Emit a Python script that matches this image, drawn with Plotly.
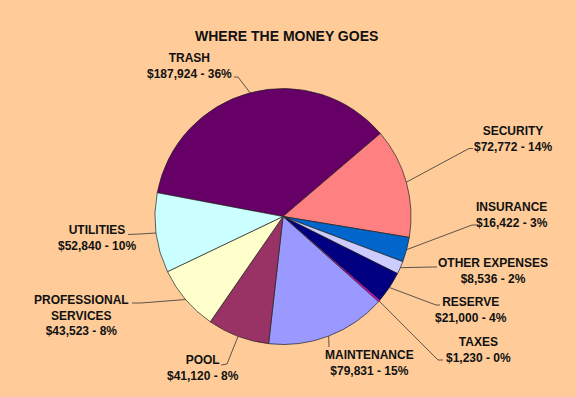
import math
import plotly.graph_objects as go

# ---- data ----
categories = ["TRASH", "SECURITY", "INSURANCE", "OTHER EXPENSES", "RESERVE",
              "TAXES", "MAINTENANCE", "POOL", "PROFESSIONAL SERVICES", "UTILITIES"]
amounts = [187924, 72772, 16422, 8536, 21000, 1230, 79831, 41120, 43523, 52840]
label_lines = [["TRASH"], ["SECURITY"], ["INSURANCE"], ["OTHER EXPENSES"], ["RESERVE"],
               ["TAXES"], ["MAINTENANCE"], ["POOL"], ["PROFESSIONAL", "SERVICES"], ["UTILITIES"]]
colors = ["#660066", "#FF8080", "#0066CC", "#CCCCFF", "#000080",
          "#FF00FF", "#9999FF", "#993366", "#FFFFCC", "#CCFFFF"]

# ---- layout constants (pixels) ----
W, H = 576, 397
CX, CY, R = 283.0, 216.5, 128.0
ROTATION = -79.3

# label block centres and leader-line starts (start point, elbow point)
label_pos = [(189, 66), (513, 139), (512, 215), (493, 271), (471, 310),
             (478, 350), (369, 363), (203, 368), (81.5, 315), (96.5, 238)]
leader_start = [((234, 77), (238, 77)), ((473, 148.5), (469, 148.5)),
                ((476, 225), (472, 225)), ((437, 267), (433, 267)),
                ((440, 305), (436, 305)), ((443, 360), (438, 360)),
                ((329, 347), (329, 346)), ((221, 365), (227, 364)),
                ((132, 303), (141, 303)), ((128, 234.5), (140, 234))]


def px(x):
    return x / W


def py(y):
    return 1 - y / H


total = sum(amounts)

fig = go.Figure()
fig.add_trace(go.Pie(
    labels=categories,
    values=amounts,
    sort=False,
    direction="clockwise",
    rotation=ROTATION,
    marker=dict(colors=colors, line=dict(color="#222222", width=0.7)),
    textinfo="none",
    showlegend=False,
    domain=dict(x=[px(CX - R), px(CX + R)], y=[py(CY + R), py(CY - R)]),
))

annotations = [dict(
    text="<b>WHERE THE MONEY GOES</b>", x=px(286.5), y=py(36),
    xref="paper", yref="paper", showarrow=False,
    font=dict(family="Liberation Sans, Arial", size=14, color="#111111"),
    xanchor="center", yanchor="middle")]
shapes = []

cum = 0.0
for i, v in enumerate(amounts):
    frac_mid = (cum + v / 2) / total
    cum += v
    theta = math.radians(ROTATION + 360 * frac_mid)
    ex = CX + R * math.sin(theta)
    ey = CY - R * math.cos(theta)
    pct = round(100 * v / total)
    txt = "<br>".join(label_lines[i] + [f"${v:,} - {pct}%"])
    lx, ly = label_pos[i]
    annotations.append(dict(
        text=f"<b>{txt}</b>", x=px(lx), y=py(ly), xref="paper", yref="paper",
        showarrow=False, xanchor="center", yanchor="middle", align="center",
        font=dict(family="Liberation Sans, Arial", size=12, color="#111111")))
    (sx, sy), (bx, by) = leader_start[i]
    path = f"M {px(sx)} {py(sy)} L {px(bx)} {py(by)} L {px(ex)} {py(ey)}"
    shapes.append(dict(type="path", path=path, xref="paper", yref="paper",
                       line=dict(color="#333333", width=0.8)))

fig.update_layout(
    width=W, height=H, autosize=False,
    margin=dict(l=0, r=0, t=0, b=0),
    paper_bgcolor="#FFCC99", plot_bgcolor="#FFCC99",
    annotations=annotations, shapes=shapes,
)

fig.write_html("out.html")
